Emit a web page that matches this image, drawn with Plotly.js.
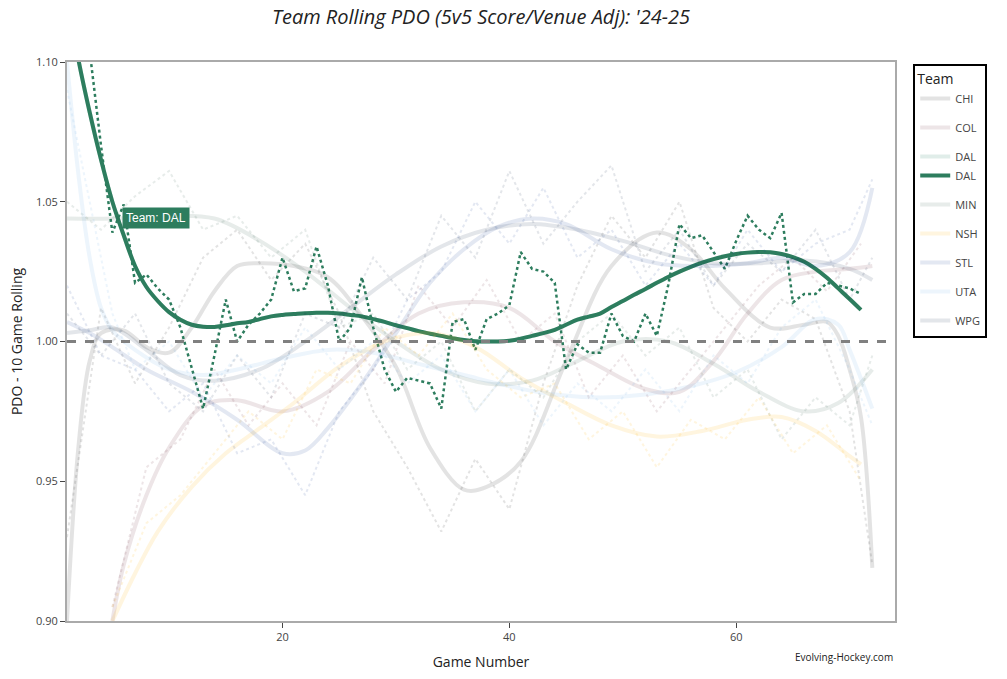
<!DOCTYPE html>
<html>
<head>
<meta charset="utf-8">
<script src="https://cdn.plot.ly/plotly-3.0.1.min.js"></script>
<style>
  html, body { margin: 0; padding: 0; background: #fff; }
  #chart { width: 1007px; height: 679px; }
</style>
</head>
<body>
<div id="chart"></div>
<script>
// ---- Highlighted team: Dallas ----
const dalGames = [1,2,3,4,5,6,7,8,9,10,11,12,13,14,15,16,17,18,19,20,21,22,23,24,25,26,27,28,29,30,31,32,33,34,35,36,37,38,39,40,41,42,43,44,45,46,47,48,49,50,51,52,53,54,55,56,57,58,59,60,61,62,63,64,65,66,67,68,69,70,71];
const dalRolling = [1.150,1.130,1.104,1.070,1.039,1.049,1.021,1.024,1.019,1.015,1.005,0.990,0.976,0.995,1.015,1.000,1.006,1.010,1.015,1.030,1.018,1.019,1.034,1.020,1.000,1.005,1.023,1.005,0.990,0.982,0.987,0.986,0.985,0.976,1.007,1.008,0.997,1.008,1.010,1.013,1.032,1.026,1.025,1.021,0.990,0.999,0.996,0.996,1.010,1.002,1.000,1.010,1.002,1.020,1.042,1.037,1.038,1.032,1.026,1.036,1.045,1.040,1.037,1.046,1.014,1.017,1.017,1.021,1.020,1.019,1.017];
const dalSmooth = [1.125,1.101,1.082,1.065,1.050,1.038,1.027,1.0195,1.0145,1.0105,1.0078,1.006,1.0053,1.0052,1.0058,1.0065,1.007,1.008,1.009,1.0095,1.0098,1.0101,1.0103,1.0103,1.010,1.0095,1.009,1.008,1.007,1.0058,1.0048,1.0037,1.0028,1.002,1.0012,1.0005,1.0001,1.000,1.000,1.0003,1.001,1.002,1.003,1.0042,1.006,1.0078,1.0089,1.010,1.0123,1.0145,1.0167,1.0188,1.021,1.0231,1.025,1.0267,1.0282,1.0295,1.0305,1.0313,1.0318,1.032,1.0319,1.0313,1.0302,1.0285,1.026,1.0228,1.019,1.0152,1.0113];

// ---- Comparison teams: smoothed trend ----
const chiGames = [1,2,3,4,6,8,10,12,14,16,18,21,24,27,30,33,36,38,41,45,49,53,56,59,63,66,68,69,70,71,72];
const chiSmooth = [0.900,0.962,0.993,1.003,1.004,0.998,0.996,1.005,1.018,1.027,1.028,1.027,1.023,1.009,0.991,0.962,0.947,0.948,0.957,0.993,1.027,1.039,1.033,1.019,1.005,1.006,1.007,1.002,0.990,0.973,0.919];
const colGames = [5,6,8,10,13,16,20,24,28,32,36,40,44,48,52,55,58,61,64,67,70,72];
const colSmooth = [0.900,0.920,0.945,0.962,0.977,0.979,0.975,0.982,0.997,1.010,1.014,1.012,1.000,0.991,0.983,0.982,0.993,1.010,1.022,1.025,1.026,1.027];
const minGames = [1,5,10,14,18,22,26,30,34,38,42,46,50,54,58,62,66,69,72];
const minSmooth = [1.044,1.044,1.045,1.044,1.036,1.025,1.012,1.000,0.990,0.985,0.986,0.993,1.000,1.000,0.992,0.982,0.975,0.978,0.990];
const nshGames = [5,7,9,12,15,18,21,25,29,33,37,41,45,49,53,57,61,64,67,70,71];
const nshSmooth = [0.900,0.917,0.932,0.948,0.960,0.969,0.978,0.991,1.000,1.003,0.998,0.987,0.978,0.970,0.966,0.968,0.972,0.973,0.968,0.959,0.956];
const stlGames = [1,3,5,8,12,16,20,22,24,27,30,33,36,39,42,45,49,53,57,61,64,67,70,72];
const stlSmooth = [1.007,1.003,0.998,0.990,0.982,0.972,0.960,0.961,0.969,0.985,1.003,1.021,1.033,1.041,1.044,1.042,1.033,1.028,1.027,1.028,1.030,1.027,1.032,1.055];
const utaGames = [1,2,3,4,5,7,10,13,16,20,24,28,32,36,40,44,48,52,56,60,64,67,69,70,72];
const utaSmooth = [1.100,1.060,1.030,1.012,1.004,0.997,0.990,0.988,0.990,0.994,0.997,0.996,0.992,0.988,0.984,0.981,0.980,0.981,0.984,0.989,0.998,1.008,1.006,0.997,0.976];
const wpgGames = [1,3,5,8,11,14,18,22,26,30,34,38,42,46,50,54,58,62,66,70,72];
const wpgSmooth = [1.003,1.004,1.005,0.997,0.988,0.986,0.990,1.000,1.012,1.024,1.034,1.040,1.042,1.040,1.036,1.031,1.028,1.028,1.029,1.026,1.022];

// ---- Comparison teams: raw 10-game rolling ----
const chiRawGames = [1,4,7,10,13,16,19,22,25,28,31,34,37,40,43,46,49,52,55,58,61,64,67,70,72];
const chiRolling = [0.930,1.012,0.985,1.005,1.030,1.040,1.022,1.035,1.010,0.975,0.955,0.932,0.958,0.940,0.985,1.020,1.045,1.030,1.050,1.012,1.000,1.015,1.008,0.975,0.920];
const colRawGames = [5,8,11,14,17,20,23,26,29,32,35,38,41,44,47,50,53,56,59,62,65,68,71];
const colRolling = [0.905,0.955,0.965,0.990,0.970,0.985,0.970,1.000,0.985,1.020,1.005,1.022,1.000,1.010,0.980,0.995,0.975,0.990,1.005,1.020,1.030,1.018,1.035];
const minRawGames = [1,4,7,10,13,16,19,22,25,28,31,34,37,40,43,46,49,52,55,58,61,64,67,70,72];
const minRolling = [1.050,1.040,1.052,1.061,1.040,1.045,1.030,1.040,1.005,1.010,0.990,1.000,0.975,0.990,0.980,1.000,1.010,0.995,1.005,0.980,0.990,0.965,0.980,0.970,0.995];
const nshRawGames = [5,8,11,14,17,20,23,26,29,32,35,38,41,44,47,50,53,56,59,62,65,68,71];
const nshRolling = [0.905,0.935,0.945,0.960,0.975,0.965,0.990,0.985,1.005,0.995,1.010,0.990,0.980,0.985,0.965,0.975,0.955,0.972,0.965,0.980,0.960,0.970,0.950];
const stlRawGames = [1,4,7,10,13,16,19,22,25,28,31,34,37,40,43,46,49,52,55,58,61,64,67,70,72];
const stlRolling = [1.020,0.995,0.990,0.975,0.985,0.960,0.965,0.945,0.975,0.990,1.015,1.025,1.050,1.035,1.055,1.030,1.040,1.020,1.035,1.020,1.040,1.025,1.035,1.040,1.058];
const utaRawGames = [1,3,5,7,10,13,16,19,22,25,28,31,34,37,40,43,46,49,52,55,58,61,64,67,70,72];
const utaRolling = [1.090,1.050,1.010,0.990,1.000,0.980,0.995,0.985,1.005,0.990,1.000,0.985,0.995,0.975,0.990,0.970,0.985,0.975,0.990,0.975,0.995,0.985,1.005,1.015,0.990,0.970];
const wpgRawGames = [1,4,7,10,13,16,19,22,25,28,31,34,37,40,43,46,49,52,55,58,61,64,67,70,72];
const wpgRolling = [1.010,0.995,1.010,0.985,0.975,0.995,0.980,1.010,1.005,1.030,1.015,1.045,1.030,1.061,1.035,1.050,1.063,1.025,1.040,1.020,1.035,1.025,1.040,1.015,1.030];

const leagueAverage = 1.0;
const highlightTeam = 'DAL';
const dalColor = '#2d7d5e';

const teams = [
  {name: 'CHI', color: 'rgba(0,0,0,0.11)',        g: chiGames, s: chiSmooth, rg: chiRawGames, r: chiRolling},
  {name: 'COL', color: 'rgba(111,38,61,0.12)',    g: colGames, s: colSmooth, rg: colRawGames, r: colRolling},
  {name: 'DAL', color: 'rgba(0,104,71,0.12)',     g: dalGames, s: dalSmooth, rg: null, r: null},
  {name: 'MIN', color: 'rgba(21,71,52,0.10)',     g: minGames, s: minSmooth, rg: minRawGames, r: minRolling},
  {name: 'NSH', color: 'rgba(255,184,28,0.14)',   g: nshGames, s: nshSmooth, rg: nshRawGames, r: nshRolling},
  {name: 'STL', color: 'rgba(0,47,135,0.11)',     g: stlGames, s: stlSmooth, rg: stlRawGames, r: stlRolling},
  {name: 'UTA', color: 'rgba(113,175,229,0.13)',  g: utaGames, s: utaSmooth, rg: utaRawGames, r: utaRolling},
  {name: 'WPG', color: 'rgba(4,30,66,0.11)',      g: wpgGames, s: wpgSmooth, rg: wpgRawGames, r: wpgRolling}
];

const traces = [];
teams.forEach(t => {
  if (t.r) {
    traces.push({
      x: t.rg, y: t.r, type: 'scatter', mode: 'lines',
      line: {color: t.color, width: 2, dash: 'dot'},
      legendgroup: t.name, showlegend: false, hoverinfo: 'skip'
    });
  }
  traces.push({
    x: t.g, y: t.s, type: 'scatter', mode: 'lines', name: t.name,
    line: {color: t.color, width: 4, shape: 'spline', smoothing: 1},
    legendgroup: t.name, hoverinfo: 'skip'
  });
  if (t.name === highlightTeam) {
    traces.push({
      x: dalGames, y: dalSmooth, type: 'scatter', mode: 'lines', name: highlightTeam,
      line: {color: dalColor, width: 4, shape: 'spline', smoothing: 1},
      legendgroup: t.name
    });
    traces.push({
      x: dalGames, y: dalRolling, type: 'scatter', mode: 'lines',
      line: {color: dalColor, width: 2.5, dash: 'dot'},
      legendgroup: t.name, showlegend: false, hoverinfo: 'skip'
    });
  }
});

// Label pinned just below the highlighted trend line at game 5
const labelGame = 5;
const labelValue = dalSmooth[dalGames.indexOf(labelGame)];

const font = "'Open Sans', 'DejaVu Sans', sans-serif";

const layout = {
  width: 1007, height: 679,
  margin: {l: 67, r: 112, t: 62, b: 58},
  paper_bgcolor: '#ffffff', plot_bgcolor: '#ffffff',
  font: {family: font, color: '#444', size: 12},
  title: {
    text: "<i>Team Rolling PDO (5v5 Score/Venue Adj): '24-25</i>",
    font: {family: font, size: 20, color: '#222'},
    x: 0.5, xref: 'paper', xanchor: 'center', y: 0.985, yref: 'container', yanchor: 'top'
  },
  xaxis: {
    range: [1, 74], showgrid: false, zeroline: false,
    tickvals: [20, 40, 60], ticks: 'outside', ticklen: 5, tickcolor: '#444',
    tickfont: {family: font, size: 11, color: '#444'},
    showline: true, linecolor: '#aaaaaa', linewidth: 2, mirror: true,
    title: {text: 'Game Number', font: {family: font, size: 14, color: '#222'}, standoff: 14}
  },
  yaxis: {
    range: [0.90, 1.10], showgrid: false, zeroline: false,
    tickvals: [0.90, 0.95, 1.00, 1.05, 1.10], ticktext: ['0.90', '0.95', '1.00', '1.05', '1.10'],
    ticks: 'outside', ticklen: 5, tickcolor: '#444',
    tickfont: {family: font, size: 11, color: '#444'},
    showline: true, linecolor: '#aaaaaa', linewidth: 2, mirror: true,
    title: {text: 'PDO - 10 Game Rolling', font: {family: font, size: 14, color: '#222'}, standoff: 10}
  },
  legend: {
    x: 1.022, xanchor: 'left', y: 0.997, yanchor: 'top',
    bordercolor: '#000', borderwidth: 2, bgcolor: '#fff',
    traceorder: 'grouped', tracegroupgap: 10,
    font: {family: font, size: 11, color: '#444'},
    title: {text: 'Team', font: {family: font, size: 14, color: '#222'}}
  },
  shapes: [{
    type: 'line', xref: 'paper', x0: 0, x1: 1, yref: 'y', y0: leagueAverage, y1: leagueAverage,
    line: {color: '#808080', width: 3, dash: 'dash'}
  }],
  annotations: [
    {
      x: labelGame, y: labelValue, xref: 'x', yref: 'y',
      xanchor: 'left', yanchor: 'middle', xshift: 10, yshift: -16,
      text: 'Team: DAL', showarrow: false, bgcolor: dalColor, borderpad: 3,
      font: {family: "'Liberation Sans', Arial, sans-serif", size: 12, color: '#ffffff'}
    },
    {
      x: 1, y: -0.065, xref: 'paper', yref: 'paper', xanchor: 'right', yanchor: 'middle',
      text: 'Evolving-Hockey.com', showarrow: false,
      font: {family: font, size: 10, color: '#222'}
    }
  ],
  hovermode: false
};

Plotly.newPlot('chart', traces, layout, {displayModeBar: false, staticPlot: true});
</script>
</body>
</html>
